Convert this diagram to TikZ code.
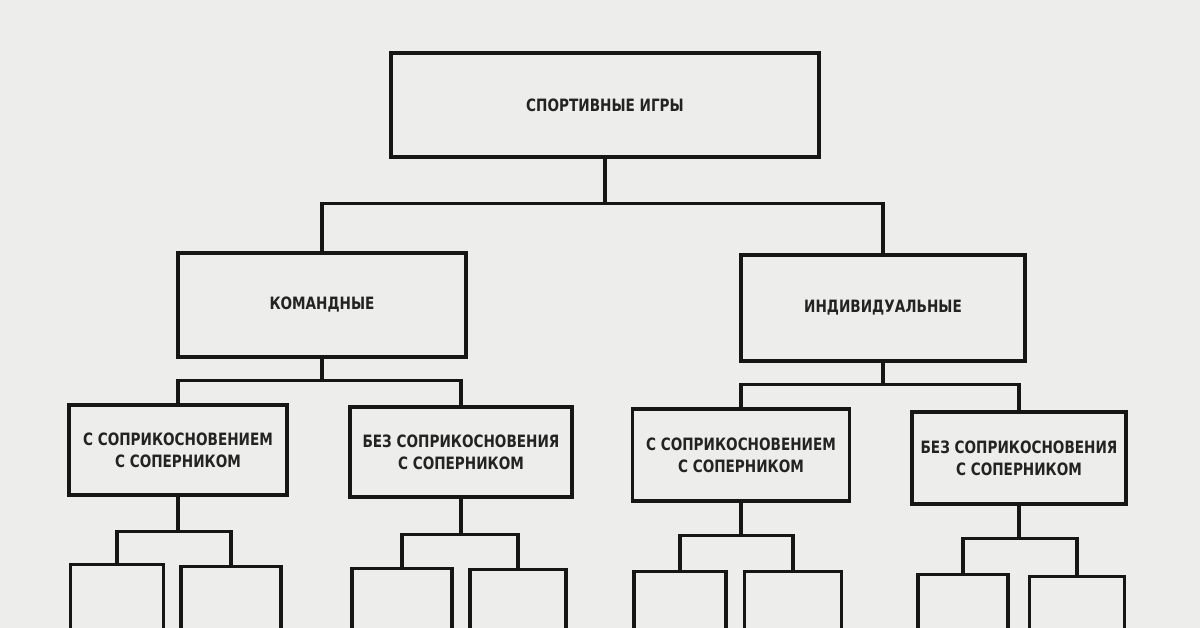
\documentclass[tikz,border=0pt]{standalone}
\usepackage{fontspec}
\newfontfamily\labfont[FakeStretch=0.8]{DejaVu Sans}
\definecolor{bgc}{RGB}{237,237,235}
\definecolor{ink}{RGB}{22,22,22}
\definecolor{txt}{RGB}{35,35,35}
\tikzset{
  box/.style={draw=ink, line width=3.2pt, fill=bgc, inner sep=0pt,
    text=txt, align=center,
    font=\labfont\bfseries\fontsize{17}{22}\selectfont},
  leaf/.style={draw=ink, line width=3.2pt, inner sep=0pt, anchor=north, minimum height=100pt},
  conn/.style={draw=ink, line width=3.2pt, line cap=rect}
}
\begin{document}
\begin{tikzpicture}[x=1pt,y=-1pt]
\useasboundingbox (0,0) rectangle (1200,628);
\fill[bgc] (0,0) rectangle (1200,628);
\clip (0,0) rectangle (1200,628);
% level 0
\node[box, minimum width=428pt, minimum height=104pt] (top) at (605,105) {СПОРТИВНЫЕ ИГРЫ};
% level 1
\node[box, minimum width=288pt, minimum height=104pt] (team) at (322,305) {КОМАНДНЫЕ};
\node[box, minimum width=284pt, minimum height=106pt] (indiv) at (883,308) {ИНДИВИДУАЛЬНЫЕ};
% level 2
\node[box, minimum width=218pt, minimum height=90pt] (ta) at (178,450) {С СОПРИКОСНОВЕНИЕМ\\С СОПЕРНИКОМ};
\node[box, minimum width=222pt, minimum height=90pt] (tb) at (461,452) {БЕЗ СОПРИКОСНОВЕНИЯ\\С СОПЕРНИКОМ};
\node[box, minimum width=217pt, minimum height=92pt] (ia) at (741,455) {С СОПРИКОСНОВЕНИЕМ\\С СОПЕРНИКОМ};
\node[box, minimum width=214pt, minimum height=92pt] (ib) at (1019,458) {БЕЗ СОПРИКОСНОВЕНИЯ\\С СОПЕРНИКОМ};
% level 3 (cut off by the lower edge)
\node[leaf, minimum width=93pt] (ta1) at (117,563) {};
\node[leaf, minimum width=100pt] (ta2) at (231,565) {};
\node[leaf, minimum width=100pt] (tb1) at (402,567) {};
\node[leaf, minimum width=96pt] (tb2) at (518,568) {};
\node[leaf, minimum width=92pt] (ia1) at (680,570) {};
\node[leaf, minimum width=97pt] (ia2) at (793,570) {};
\node[leaf, minimum width=90pt] (ib1) at (963,573) {};
\node[leaf, minimum width=95pt] (ib2) at (1077,575) {};
% connectors
\draw[conn] (top.south) -- ++(0,45) coordinate (j0);
\draw[conn] (team.north) |- (j0) -| (indiv.north);
\draw[conn] (team.south) -- ++(0,22) coordinate (j1);
\draw[conn] (ta.north) |- (j1) -| (tb.north);
\draw[conn] (indiv.south) -- ++(0,22) coordinate (j2);
\draw[conn] (ia.north) |- (j2) -| (ib.north);
\draw[conn] (ta.south) -- ++(0,35) coordinate (j3);
\draw[conn] (ta1.north) |- (j3) -| (ta2.north);
\draw[conn] (tb.south) -- ++(0,36) coordinate (j4);
\draw[conn] (tb1.north) |- (j4) -| (tb2.north);
\draw[conn] (ia.south) -- ++(0,33) coordinate (j5);
\draw[conn] (ia1.north) |- (j5) -| (ia2.north);
\draw[conn] (ib.south) -- ++(0,33) coordinate (j6);
\draw[conn] (ib1.north) |- (j6) -| (ib2.north);
\end{tikzpicture}
\end{document}
